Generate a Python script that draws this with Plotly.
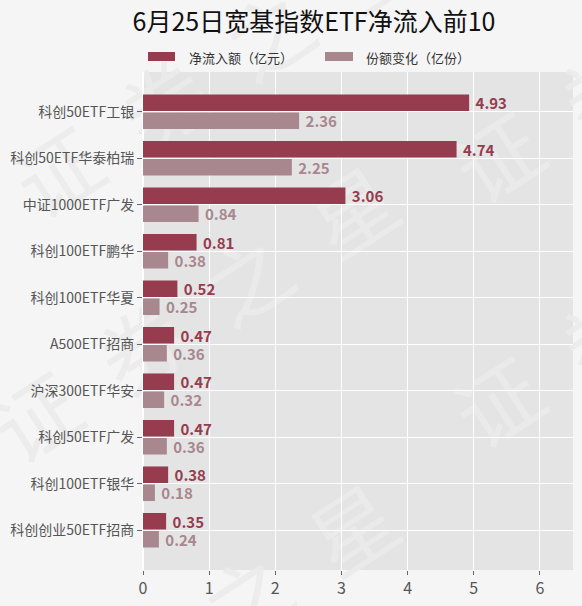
import plotly.graph_objects as go

# ---- data ----
FUNDS = ["科创50ETF工银", "科创50ETF华泰柏瑞", "中证1000ETF广发", "科创100ETF鹏华",
         "科创100ETF华夏", "A500ETF招商", "沪深300ETF华安", "科创50ETF广发",
         "科创100ETF银华", "科创创业50ETF招商"]
NET_INFLOW = [4.93, 4.74, 3.06, 0.81, 0.52, 0.47, 0.47, 0.47, 0.38, 0.35]   # 亿元
SHARE_CHANGE = [2.36, 2.25, 0.84, 0.38, 0.25, 0.36, 0.32, 0.36, 0.18, 0.24]  # 亿份
SERIES_NAMES = ["净流入额（亿元）", "份额变化（亿份）"]
X_TICKS = [0, 1, 2, 3, 4, 5, 6]

DARK = "#963c4e"
LIGHT = "#a8878f"
FONT = "Noto Sans CJK SC"
W, H = 582, 606
M = dict(l=143, r=9, t=72, b=36, autoexpand=False)

# pixel -> paper helpers (paper = plot area)
pw = W - M["l"] - M["r"]
ph = H - M["t"] - M["b"]
def px_x(v):
    return (v - M["l"]) / pw
def px_y(v):
    return (H - M["b"] - v) / ph

fig = go.Figure()
for vals, name, col in [(NET_INFLOW, SERIES_NAMES[0], DARK),
                        (SHARE_CHANGE, SERIES_NAMES[1], LIGHT)]:
    fig.add_trace(go.Bar(
        y=FUNDS, x=vals, name=name, orientation="h",
        marker=dict(color=col, line=dict(width=0)),
        text=[f" {v:.2f}" for v in vals], textposition="outside", constraintext="none",
        textfont=dict(family=FONT, size=15, color=col, weight="bold"),
        cliponaxis=False, showlegend=False,
    ))

# watermark: shape labels on the lower layer so it sits under grid and bars
WM = "证\u2002券\u2002之\u2002星"
for cx, cy in [(222, 77), (200, 322), (662, 62), (662, 307), (200, 640)]:
    fig.add_shape(
        type="rect", xref="paper", yref="paper", layer="below",
        x0=px_x(cx - 1), x1=px_x(cx + 1), y0=px_y(cy + 1), y1=px_y(cy - 1),
        line=dict(width=0), fillcolor="rgba(0,0,0,0)",
        label=dict(text=WM, textangle=-33, textposition="middle center",
                   font=dict(family=FONT, size=84, color="rgba(234,234,234,0.88)")),
    )

# manual legend (wide flat swatches like the original)
for (x0, x1, tx), name, col in [((148, 175, 187), SERIES_NAMES[0], DARK),
                                ((325, 353, 364), SERIES_NAMES[1], LIGHT)]:
    fig.add_shape(type="rect", xref="paper", yref="paper",
                  x0=px_x(x0), x1=px_x(x1), y0=px_y(61), y1=px_y(52),
                  fillcolor=col, line=dict(width=0))
    fig.add_annotation(text=name, x=px_x(tx), y=px_y(57), xref="paper", yref="paper",
                       xanchor="left", yanchor="middle", showarrow=False,
                       font=dict(family=FONT, size=13, color="#333333"))

fig.update_layout(
    width=W, height=H, margin=M,
    title=dict(text="6月25日宽基指数ETF净流入前10", x=314 / W, xanchor="center",
               y=1 - 22 / H, yanchor="middle", yref="container",
               font=dict(family=FONT, size=25, color="#111111")),
    paper_bgcolor="#f5f5f5", plot_bgcolor="#e4e4e4",
    barmode="group", bargap=0.226, bargroupgap=0.08,
    font=dict(family=FONT, size=14, color="#555555"),
)
fig.update_xaxes(range=[0, 6.5], tickvals=X_TICKS, showgrid=True, gridcolor="white",
                 gridwidth=1, zeroline=True, zerolinecolor="white", ticks="outside",
                 ticklen=4, tickcolor="#666666", tickfont=dict(size=16, color="#555555"),
                 automargin=False)
fig.update_yaxes(categoryorder="array", categoryarray=FUNDS, range=[9.855, -0.855],
                 showgrid=True, gridcolor="white", gridwidth=1, ticks="outside",
                 ticklen=5, tickcolor="#666666", tickfont=dict(size=14, color="#555555"),
                 automargin=False)

# page body has a default 8px margin; drop it so the figure fills the window
fig.write_html("out.html", config={"displayModeBar": False},
               post_script="document.body.style.margin='0';")
